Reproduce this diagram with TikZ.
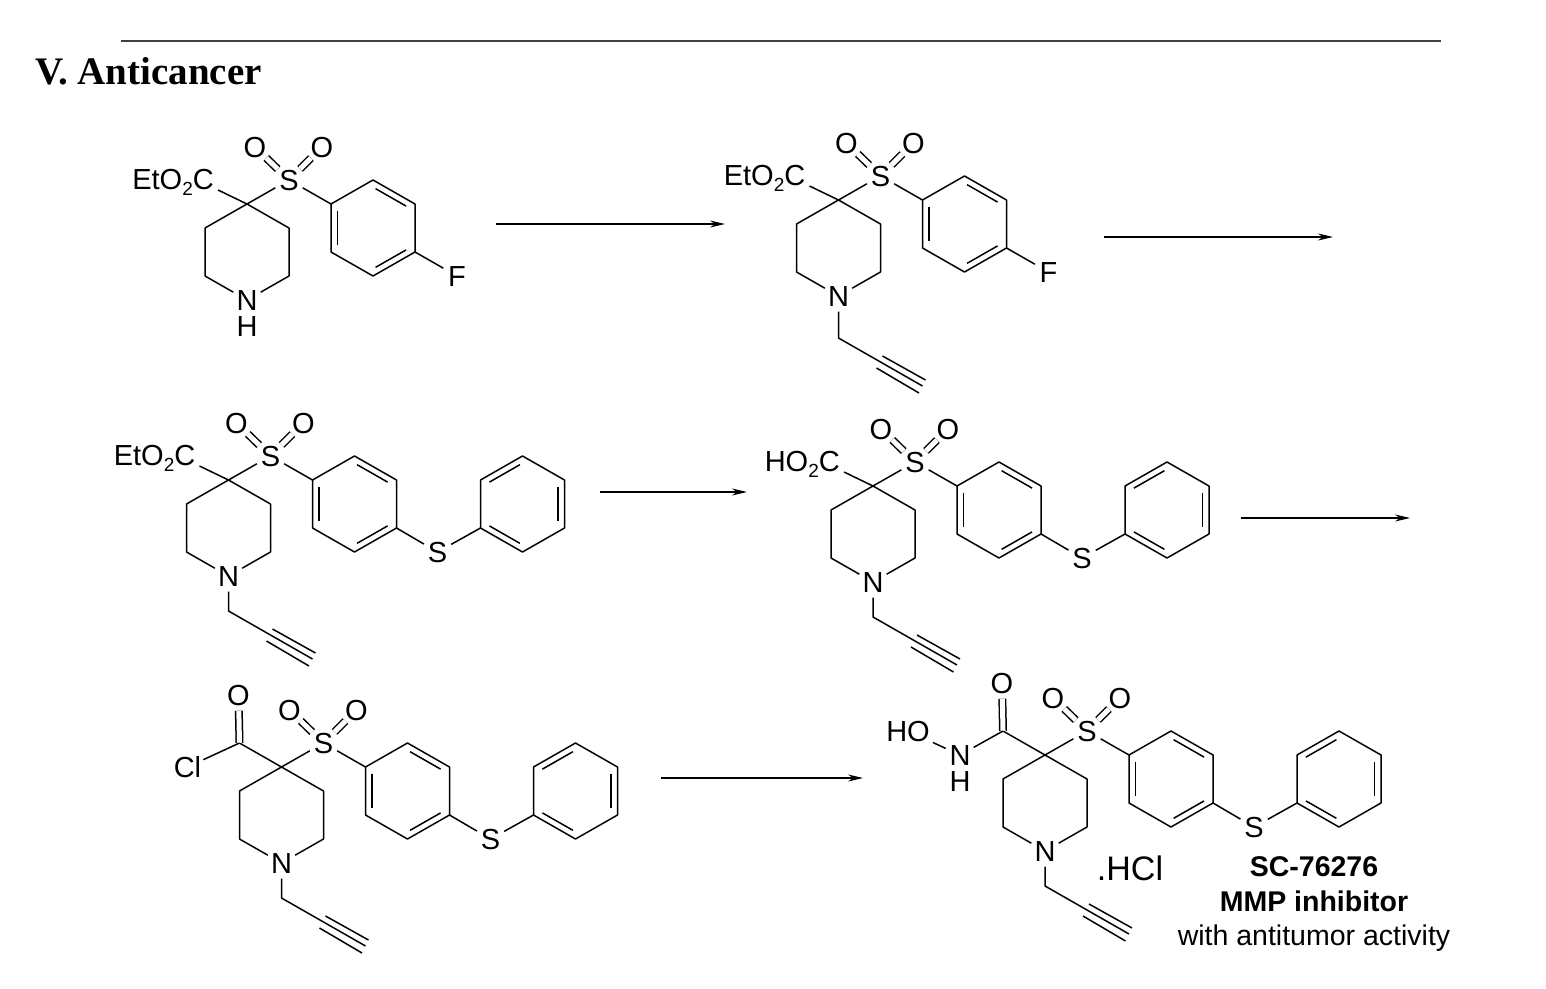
\documentclass[tikz,border=0pt]{standalone}
\usepackage{fontspec}
\setmainfont{Liberation Sans}
\newfontfamily\headfont{Liberation Serif}
\usetikzlibrary{calc,arrows.meta}
\newcommand{\subtwo}{\raisebox{-0.2em}{\fontsize{19}{19}\selectfont 2}}
\tikzset{
	bond/.style={line width=1.5pt,line join=round},
	dbond/.style={bond,double,double distance=5pt},
	atom/.style={circle,inner sep=0pt,minimum size=31pt,font=\fontsize{29}{32}\selectfont,text height=21pt,text depth=0pt},
	acid/.style={anchor=south east,inner xsep=4pt,inner ysep=0pt,font=\fontsize{29}{32}\selectfont,text height=21pt,text depth=0pt},
	arrow/.style={line width=1.1pt,-{Stealth[length=15pt,width=7pt]}},
	caption/.style={inner sep=0pt,font=\fontsize{28.5}{32}\selectfont}
}
\begin{document}
\begin{tikzpicture}[x=1pt,y=-1pt]
	\useasboundingbox (0,0) rectangle (1546,988);
	
	\coordinate (rule1) at (121,41);
	\coordinate (rule2) at (1441,41);
	\draw [line width=1.3pt,black!75] (rule1) -- (rule2);
	\node (title) [anchor=west,inner sep=0pt] at (35,71) {\headfont\bfseries\fontsize{39}{41}\selectfont V. Anticancer};
	
	\foreach \m/\cx/\cy in {1/247/204,2/838.5/200,3/228.5/480,4/873/486,5/281.5/767,6/1045/755}{
		\coordinate (c\m) at (\cx,\cy);
		\begin{scope}[shift={(c\m)}]
			\coordinate (r\m1) at (-42,24);
			\coordinate (r\m2) at (-42,72);
			\coordinate (r\m3) at (42,72);
			\coordinate (r\m4) at (42,24);
			\node (n\m) [atom] at (0,96) {N};
			\node (s\m) [atom] at (42,-24) {S};
			\node (ol\m) [atom] at (8,-57) {O};
			\node (or\m) [atom] at (75,-57) {O};
			\coordinate (a\m1) at (84,0);
			\coordinate (a\m2) at (126,-24);
			\coordinate (a\m3) at (168,0);
			\coordinate (a\m4) at (168,48);
			\coordinate (a\m5) at (126,72);
			\coordinate (a\m6) at (84,48);
			\coordinate (ac\m) at (126,24);
		\end{scope}
		\draw [bond] (c\m) -- (r\m1) -- (r\m2) -- (n\m) -- (r\m3) -- (r\m4) -- (c\m);
		\draw [bond] (c\m) -- (s\m) -- (a\m1);
		\draw [dbond] (s\m) -- (ol\m);
		\draw [dbond] (s\m) -- (or\m);
		\draw [bond] (a\m1) -- (a\m2) -- (a\m3) -- (a\m4) -- (a\m5) -- (a\m6) -- cycle;
		\foreach \p/\q in {1/6,2/3,4/5}
		\draw [bond,shorten >=3pt,shorten <=3pt] ($(a\m\p)!.15!(ac\m)$) -- ($(a\m\q)!.15!(ac\m)$);
	}
	
	% propargyl on the ring nitrogen
	\foreach \m/\d in {2/7,3/0,4/0,5/0,6/0}{
		\begin{scope}[shift={(c\m)},yshift=-\d pt]
			\coordinate (p\m1) at (0,131);
			\coordinate (p\m2) at (84,179);
			\coordinate (t\m1) at (44,149);
			\coordinate (t\m2) at (87,173);
			\coordinate (t\m3) at (38,161);
			\coordinate (t\m4) at (80.5,186);
		\end{scope}
		\draw [bond] (n\m) -- (p\m1) -- (p\m2);
		\draw [bond] (t\m1) -- (t\m2);
		\draw [bond] (t\m3) -- (t\m4);
	}
	\node (h1) [atom] at ($(c1)+(0,122)$) {H};
	
	\foreach \m in {1,2}{
		\node (f\m) [atom] at ($(c\m)+(210,72)$) {F};
		\draw [bond] (a\m4) -- (f\m);
	}
	
	% thiophenyl
	\foreach \m in {3,...,6}{
		\begin{scope}[shift={(c\m)}]
			\node (x\m) [atom] at (209,72) {S};
			\coordinate (b\m1) at (252,0);
			\coordinate (b\m2) at (294,-24);
			\coordinate (b\m3) at (336,0);
			\coordinate (b\m4) at (336,48);
			\coordinate (b\m5) at (294,72);
			\coordinate (b\m6) at (252,48);
			\coordinate (bc\m) at (294,24);
		\end{scope}
		\draw [bond] (a\m4) -- (x\m) -- (b\m6);
		\draw [bond] (b\m1) -- (b\m2) -- (b\m3) -- (b\m4) -- (b\m5) -- (b\m6) -- cycle;
		\foreach \p/\q in {1/2,3/4,5/6}
		\draw [bond,shorten >=3pt,shorten <=3pt] ($(b\m\p)!.15!(bc\m)$) -- ($(b\m\q)!.15!(bc\m)$);
	}
	
	\foreach \m/\txt in {1/EtO\subtwo C,2/EtO\subtwo C,3/EtO\subtwo C,4/HO\subtwo C}{
		\node (e\m) [acid] at ($(c\m)+(-29,-14)$) {\txt};
		\draw [bond] (c\m) -- (e\m.south east);
	}
	
	% acid chloride and hydroxamic acid
	\foreach \m in {5,6}{
		\coordinate (k\m) at ($(c\m)+(-42,-24)$);
		\node (ko\m) [atom] at ($(c\m)+(-43,-72)$) {O};
		\draw [bond] (c\m) -- (k\m);
		\draw [dbond] (k\m) -- (ko\m);
	}
	\node (cl5) [atom] at ($(c5)+(-94,0)$) {Cl};
	\draw [bond] (k5) -- (cl5);
	\node (nh6) [atom] at ($(c6)+(-85,0)$) {N};
	\node (h6) [atom] at ($(c6)+(-85,26)$) {H};
	\node (ho6) [inner sep=3pt,font=\fontsize{29}{32}\selectfont,text height=21pt,text depth=0pt] at ($(c6)+(-137,-24)$) {HO};
	\draw [bond] (k6) -- (nh6);
	\draw [bond] (ho6) -- (nh6);
	
	\foreach \i/\xa/\xb/\y in {1/496/725/224,2/1104/1333/237,3/600/747/492,4/1241/1410/518,5/661/863/778}{
		\coordinate (l\i) at (\xa,\y);
		\coordinate (m\i) at (\xb,\y);
		\draw [arrow] (l\i) -- (m\i);
	}
	
	\node (hcl) [caption,font=\fontsize{34}{36}\selectfont] at (1130,868) {.HCl};
	\node (name) [caption] at (1314,867) {\bfseries SC-76276};
	\node (kind) [caption] at (1314,901) {\bfseries MMP inhibitor};
	\node (note) [caption] at (1314,938) {with antitumor activity};
	
\end{tikzpicture}
\end{document}
